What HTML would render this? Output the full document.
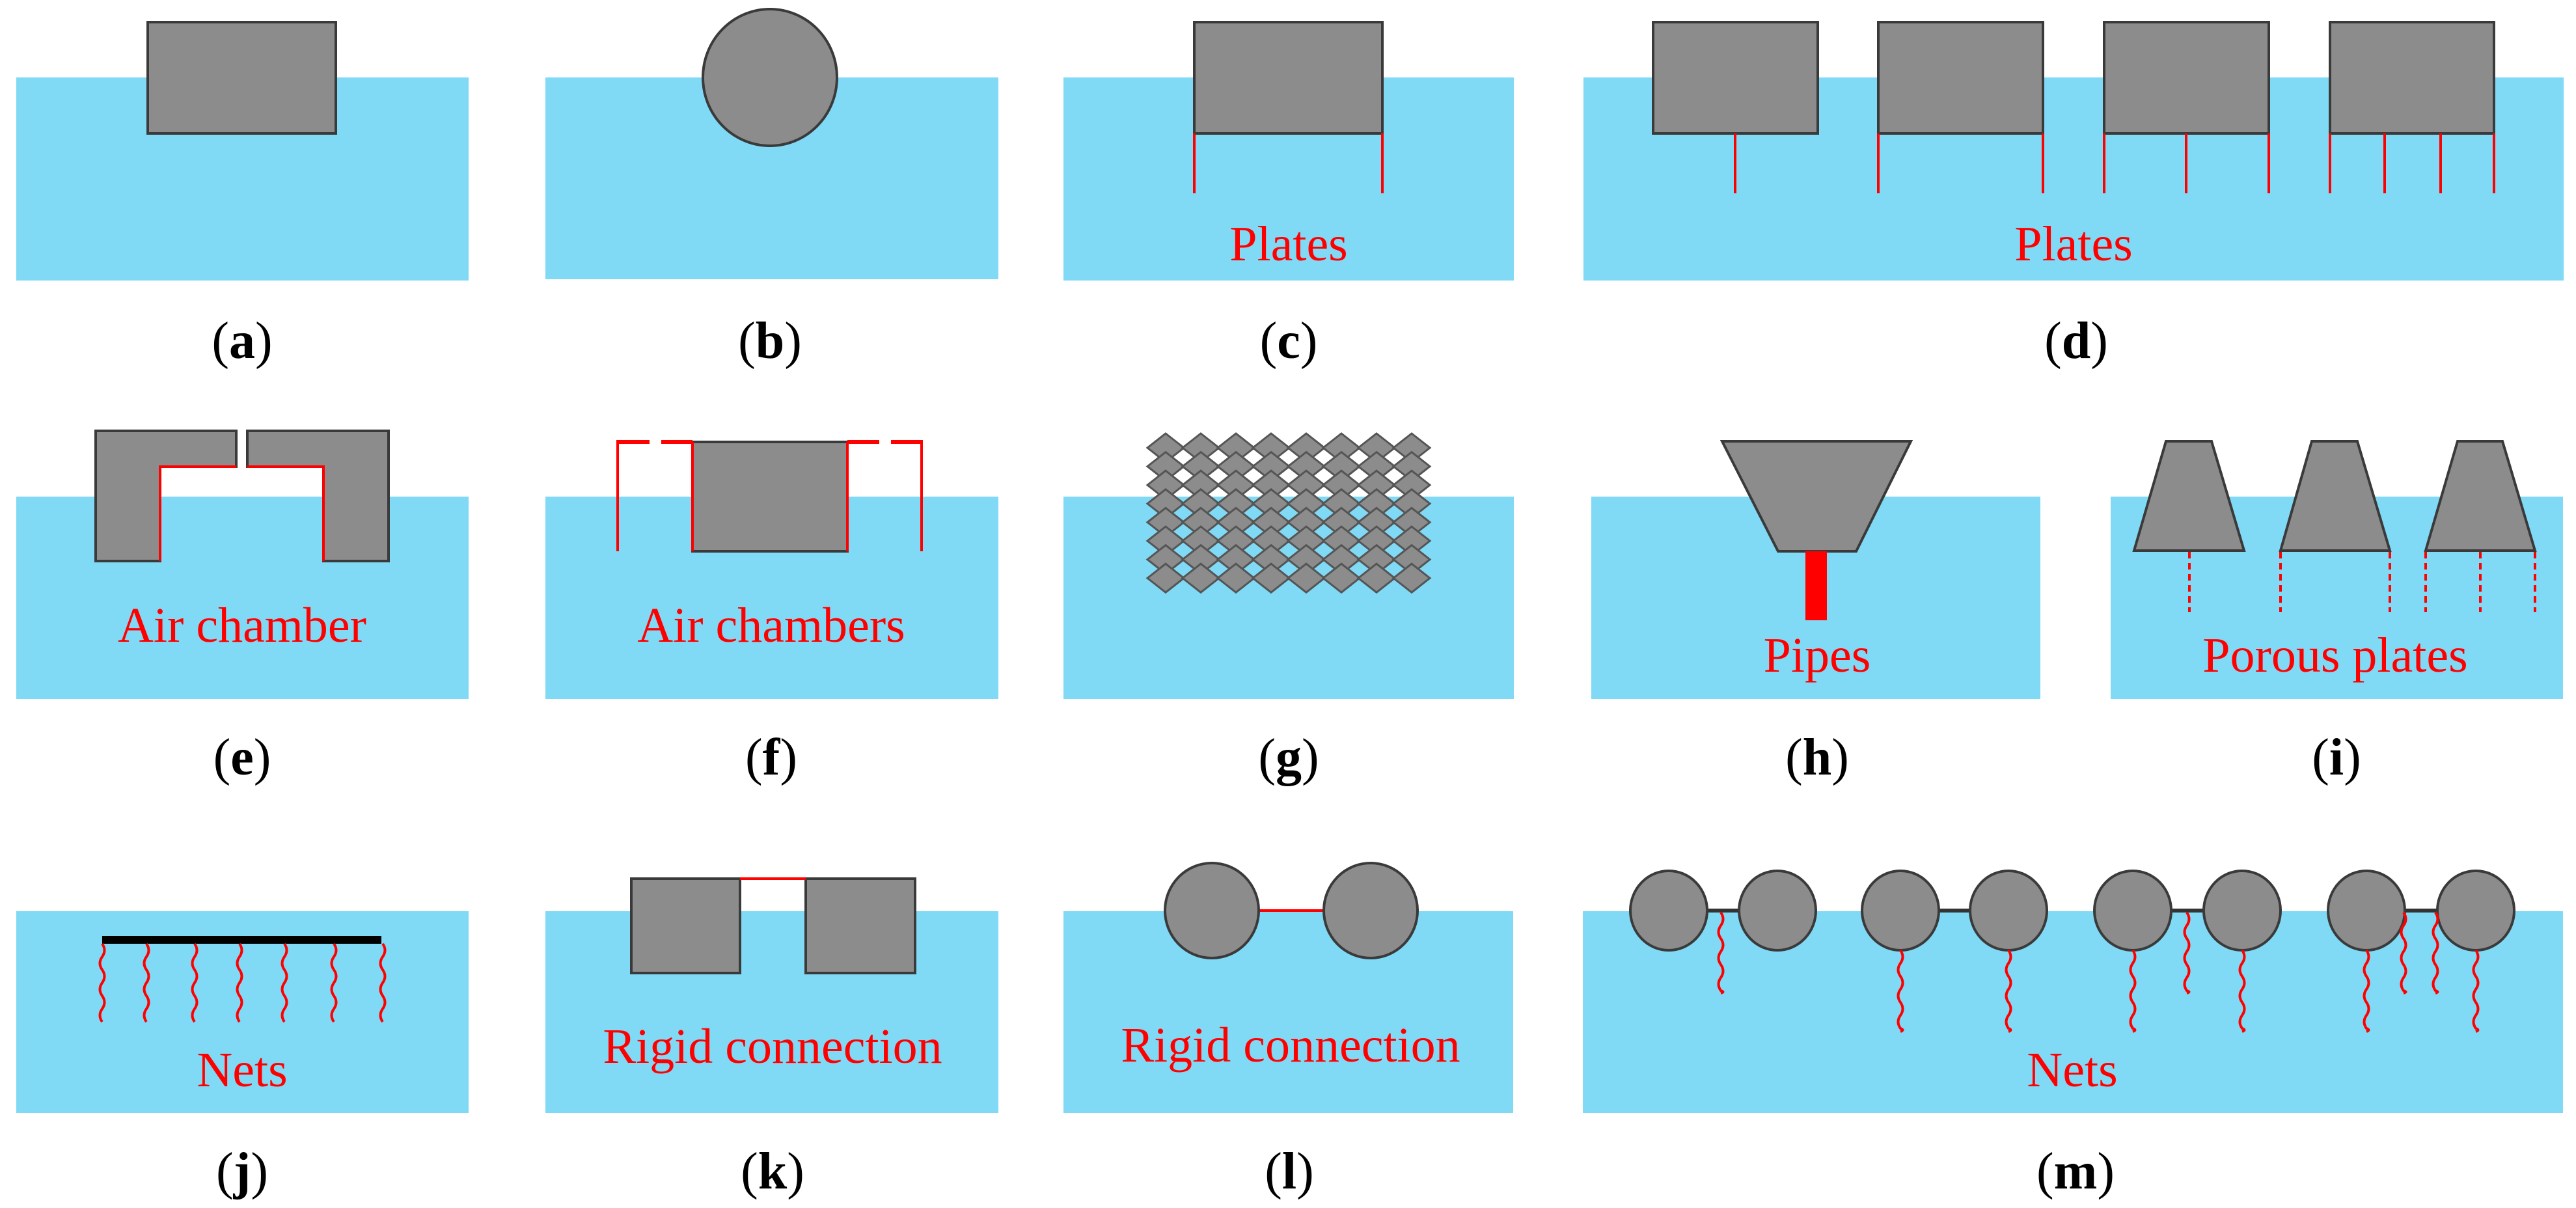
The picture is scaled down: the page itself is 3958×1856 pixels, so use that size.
<!DOCTYPE html>
<html><head><meta charset="utf-8"><style>
html,body{margin:0;padding:0;background:#fff;width:3958px;height:1856px;overflow:hidden}
svg{display:block}
.w{fill:#80d9f5}
.g{fill:#8c8c8c;stroke:#3a3a3a;stroke-width:4}
.r{stroke:#ff0000;stroke-width:4;fill:none}
.t{font-family:"Liberation Serif",serif;font-size:76px;fill:#ff0000;text-anchor:middle}
.l{font-family:"Liberation Serif",serif;font-size:80px;fill:#000;text-anchor:middle}
.l tspan.b{font-weight:bold}
</style></head><body>
<svg id="s" width="3958" height="1856" viewBox="0 0 3958 1856" xmlns="http://www.w3.org/2000/svg">
<!-- Row 1 -->
<rect class="w" x="25" y="119" width="695" height="312"/>
<rect class="g" x="227" y="34" width="289" height="171"/>
<rect class="w" x="838" y="119" width="696" height="310"/>
<ellipse class="g" cx="1183" cy="119" rx="103" ry="105"/>
<rect class="w" x="1634" y="119" width="692" height="312"/>
<rect class="g" x="1835" y="34" width="289" height="171"/>
<line class="r" x1="1835" y1="205" x2="1835" y2="297"/><line class="r" x1="2124" y1="205" x2="2124" y2="297"/>
<text class="t" x="1980" y="400">Plates</text>
<rect class="w" x="2433" y="119" width="1506" height="312"/>
<rect class="g" x="2540" y="34" width="253" height="171"/>
<rect class="g" x="2886" y="34" width="253" height="171"/>
<rect class="g" x="3233" y="34" width="253" height="171"/>
<rect class="g" x="3580" y="34" width="252" height="171"/>
<g class="r">
<line x1="2666" y1="205" x2="2666" y2="297"/>
<line x1="2886" y1="205" x2="2886" y2="297"/><line x1="3139" y1="205" x2="3139" y2="297"/>
<line x1="3233" y1="205" x2="3233" y2="297"/><line x1="3359" y1="205" x2="3359" y2="297"/><line x1="3486" y1="205" x2="3486" y2="297"/>
<line x1="3580" y1="205" x2="3580" y2="297"/><line x1="3664" y1="205" x2="3664" y2="297"/><line x1="3750" y1="205" x2="3750" y2="297"/><line x1="3832" y1="205" x2="3832" y2="297"/>
</g>
<text class="t" x="3186" y="400">Plates</text>
<text class="l" x="372" y="550">(<tspan class="b">a</tspan>)</text>
<text class="l" x="1183" y="550">(<tspan class="b">b</tspan>)</text>
<text class="l" x="1980" y="550">(<tspan class="b">c</tspan>)</text>
<text class="l" x="3190" y="550">(<tspan class="b">d</tspan>)</text>

<!-- Row 2 -->
<rect class="w" x="25" y="763" width="695" height="311"/>
<polygon class="g" points="147,662 363,662 363,717 246,717 246,862 147,862"/>
<polygon class="g" points="380,662 597,662 597,862 497,862 497,717 380,717"/>
<polyline class="r" points="246,862 246,717 363,717"/>
<polyline class="r" points="380,717 497,717 497,862"/>
<text class="t" x="372" y="986">Air chamber</text>
<rect class="w" x="838" y="763" width="696" height="311"/>
<rect class="g" x="1064" y="679" width="238" height="168"/>
<g class="r">
<line x1="949" y1="679" x2="949" y2="847"/><line x1="1416" y1="679" x2="1416" y2="847"/>
<line x1="1064" y1="679" x2="1064" y2="847"/><line x1="1302" y1="679" x2="1302" y2="847"/>
<line x1="947" y1="679" x2="998" y2="679" stroke-width="6"/><line x1="1016" y1="679" x2="1064" y2="679" stroke-width="6"/>
<line x1="1302" y1="679" x2="1351" y2="679" stroke-width="6"/><line x1="1369" y1="679" x2="1418" y2="679" stroke-width="6"/>
</g>
<text class="t" x="1185" y="986">Air chambers</text>
<rect class="w" x="1634" y="763" width="692" height="311"/>
<g id="dia"></g>
<rect class="w" x="2445" y="763" width="690" height="311"/>
<polygon class="g" points="2646,678 2936,678 2852,847 2732,847"/>
<rect x="2774" y="847" width="33" height="106" fill="#ff0000"/>
<text class="t" x="2792" y="1032">Pipes</text>
<rect class="w" x="3243" y="763" width="695" height="311"/>
<polygon class="g" points="3328,678 3398,678 3448,846 3279,846"/>
<polygon class="g" points="3552,678 3622,678 3672,846 3504,846"/>
<polygon class="g" points="3776,678 3845,678 3895,846 3727,846"/>
<g class="r" stroke-dasharray="10,7">
<line x1="3364" y1="848" x2="3364" y2="940"/>
<line x1="3504" y1="848" x2="3504" y2="940"/><line x1="3672" y1="848" x2="3672" y2="940"/>
<line x1="3727" y1="848" x2="3727" y2="940"/><line x1="3811" y1="848" x2="3811" y2="940"/><line x1="3895" y1="848" x2="3895" y2="940"/>
</g>
<text class="t" x="3588" y="1032">Porous plates</text>
<text class="l" x="372" y="1190">(<tspan class="b">e</tspan>)</text>
<text class="l" x="1185" y="1190">(<tspan class="b">f</tspan>)</text>
<text class="l" x="1980" y="1190">(<tspan class="b">g</tspan>)</text>
<text class="l" x="2792" y="1190">(<tspan class="b">h</tspan>)</text>
<text class="l" x="3590" y="1190">(<tspan class="b">i</tspan>)</text>

<!-- Row 3 -->
<rect class="w" x="25" y="1400" width="695" height="310"/>
<rect x="157" y="1438" width="429" height="12" fill="#000"/>
<rect class="w" x="838" y="1400" width="696" height="310"/>
<rect class="g" x="970" y="1350" width="167" height="145"/>
<rect class="g" x="1238" y="1350" width="168" height="145"/>
<line class="r" x1="1137" y1="1350" x2="1238" y2="1350" stroke-width="5"/>
<text class="t" x="1187" y="1633">Rigid connection</text>
<rect class="w" x="1634" y="1400" width="691" height="310"/>
<line class="r" x1="1933" y1="1399" x2="2034" y2="1399"/>
<ellipse class="g" cx="1862" cy="1399" rx="72" ry="73"/>
<ellipse class="g" cx="2106" cy="1399" rx="72" ry="73"/>
<text class="t" x="1983" y="1631">Rigid connection</text>
<rect class="w" x="2432" y="1400" width="1506" height="310"/>
<g stroke="#333" stroke-width="6">
<line x1="2564" y1="1399" x2="2731" y2="1399"/><line x1="2920" y1="1399" x2="3086" y2="1399"/>
<line x1="3277" y1="1399" x2="3445" y2="1399"/><line x1="3636" y1="1399" x2="3804" y2="1399"/>
</g>
<g id="mc"></g>
<g id="waves"></g>
<text class="t" x="372" y="1669">Nets</text>
<text class="t" x="3184" y="1669">Nets</text>
<text class="l" x="372" y="1826">(<tspan class="b">j</tspan>)</text>
<text class="l" x="1187" y="1826">(<tspan class="b">k</tspan>)</text>
<text class="l" x="1981" y="1826">(<tspan class="b">l</tspan>)</text>
<text class="l" x="3189" y="1826">(<tspan class="b">m</tspan>)</text>
</svg>
<script>
var NS="http://www.w3.org/2000/svg";
function el(tag,attrs,parent){var e=document.createElementNS(NS,tag);for(var k in attrs)e.setAttribute(k,attrs[k]);parent.appendChild(e);return e;}
var dia=document.getElementById("dia");
var w=56,h=44,px=54,py=28.6;
for(var r=0;r<8;r++)for(var c=0;c<8;c++){
 var x=1763+c*px,y=666+r*py;
 el("polygon",{points:(x+w/2)+","+y+" "+(x+w)+","+(y+h/2)+" "+(x+w/2)+","+(y+h)+" "+x+","+(y+h/2),fill:"#8c8c8c",stroke:"#555",'stroke-width':3},dia);
}
var mc=document.getElementById("mc");
[2564,2731,2920,3086,3277,3445,3636,3804].forEach(function(cx){
 el("ellipse",{cx:cx,cy:1399,rx:59,ry:61,"class":"g"},mc);
});
var wv=document.getElementById("waves");
function wave(x,y1,y2){
 var d="M"+x+","+y1, y=y1, s=1, step=20;
 while(y<y2){var ny=Math.min(y+step,y2);d+=" Q"+(x+s*7)+","+((y+ny)/2)+" "+x+","+ny;y=ny;s=-s;}
 el("path",{d:d,"class":"r","stroke-width":3.5},wv);
}
[157,225,299,368,437,513,588].forEach(function(x){wave(x,1450,1570);});
wave(2644,1402,1526);
wave(2920,1460,1585);wave(3086,1460,1585);
wave(3277,1460,1585);wave(3360,1402,1526);wave(3445,1460,1585);
wave(3636,1460,1585);wave(3693,1402,1526);wave(3742,1402,1526);wave(3804,1460,1585);
</script>
</body></html>
